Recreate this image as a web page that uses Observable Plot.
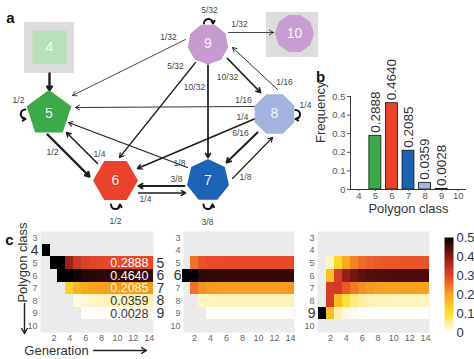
<!DOCTYPE html>
<html><head><meta charset="utf-8">
<script src="https://cdn.jsdelivr.net/npm/d3@7"></script>
<script src="https://cdn.jsdelivr.net/npm/@observablehq/plot@0.6"></script>
<style>
body{margin:0;background:#fff;}
#fig{position:relative;width:474px;height:359px;overflow:hidden;}
</style></head><body><div id="fig"></div>
<script>
// ================= DATA =================
// polygon classes (number of sides) and their colours
const nodeClasses = [4, 5, 6, 7, 8, 9, 10];
const nodeColors = ["#b9e1b9", "#3caa4a", "#e9432b", "#1d63b5", "#a3b3de", "#c69bd0", "#c89dd2"];
// transitions (panel a)
const edgeFrom = [4, 9, 9, 9, 9, 9, 8, 8, 8, 8, 7, 7, 5, 6, 7, 6];
const edgeTo   = [5, 5, 10, 6, 7, 8, 9, 5, 6, 7, 8, 5, 6, 5, 6, 7];
const edgeProb = ["", "1/32", "1/32", "5/32", "10/32", "10/32", "1/16", "1/16", "1/4", "6/16", "1/8", "1/8", "1/2", "1/4", "3/8", "1/4"];
const loopClass = [5, 6, 7, 8, 9];
const loopProb = ["1/2", "1/2", "3/8", "1/4", "5/32"];
// panel b
const freqClasses = [4, 5, 6, 7, 8, 9, 10];
const freqValues = [0, 0.2888, 0.4640, 0.2085, 0.0359, 0.0028, 0];
// panel c
const generations = [1, 2, 3, 4, 5, 6, 7, 8, 9, 10, 11, 12, 13, 14];
const genTicks = [2, 4, 6, 8, 10, 12, 14];
const rowClasses = [3, 4, 5, 6, 7, 8, 9, 10];
const _ = null;
const from4 = {
  4: [1.0, _, _, _, _, _, _, _, _, _, _, _, _, _],
  5: [_, 1.0, 0.5, 0.375, 0.328, 0.308, 0.298, 0.293, 0.291, 0.290, 0.2893, 0.2890, 0.2889, 0.2888],
  6: [_, _, 0.5, 0.5, 0.484, 0.475, 0.469, 0.467, 0.465, 0.4647, 0.4643, 0.4641, 0.4640, 0.4640],
  7: [_, _, _, 0.125, 0.172, 0.191, 0.200, 0.204, 0.206, 0.2073, 0.2079, 0.2082, 0.2084, 0.2085],
  8: [_, _, _, _, 0.016, 0.025, 0.031, 0.033, 0.0345, 0.0352, 0.0355, 0.0357, 0.0358, 0.0359],
  9: [_, _, _, _, _, 0.001, 0.0017, 0.0022, 0.0024, 0.0026, 0.0027, 0.0027, 0.0028, 0.0028]
};
const from6 = {
  5: [_, 0.25, 0.281, 0.287, 0.2884, 0.2887, 0.2888, 0.2888, 0.2888, 0.2888, 0.2888, 0.2888, 0.2888, 0.2888],
  6: [1.0, 0.5, 0.469, 0.465, 0.4642, 0.4640, 0.4640, 0.4640, 0.4640, 0.4640, 0.4640, 0.4640, 0.4640, 0.4640],
  7: [_, 0.25, 0.219, 0.211, 0.209, 0.2087, 0.2086, 0.2085, 0.2085, 0.2085, 0.2085, 0.2085, 0.2085, 0.2085],
  8: [_, _, 0.031, 0.035, 0.0358, 0.0359, 0.0359, 0.0359, 0.0359, 0.0359, 0.0359, 0.0359, 0.0359, 0.0359],
  9: [_, _, _, 0.002, 0.0025, 0.0027, 0.0028, 0.0028, 0.0028, 0.0028, 0.0028, 0.0028, 0.0028, 0.0028]
};
const from9 = {
  5: [_, 0.031, 0.118, 0.189, 0.232, 0.255, 0.266, 0.272, 0.275, 0.276, 0.277, 0.277, 0.278, 0.278],
  6: [_, 0.156, 0.313, 0.385, 0.417, 0.432, 0.439, 0.443, 0.444, 0.445, 0.445, 0.446, 0.446, 0.446],
  7: [_, 0.313, 0.322, 0.275, 0.241, 0.221, 0.211, 0.206, 0.203, 0.202, 0.201, 0.201, 0.201, 0.200],
  8: [_, 0.313, 0.166, 0.096, 0.064, 0.049, 0.041, 0.038, 0.036, 0.035, 0.035, 0.035, 0.035, 0.035],
  9: [1.0, 0.156, 0.044, 0.017, 0.009, 0.005, 0.004, 0.003, 0.003, 0.003, 0.003, 0.003, 0.003, 0.003]
};
const colorbarTicks = [0, 0.1, 0.2, 0.3, 0.4, 0.5];
const panelLetters = ["a", "b", "c"];

// ================= LAYOUT (pixels) =================
const nodeXY = [[49, 47], [48.5, 113], [115, 180], [207.5, 180], [274, 113.5], [207.5, 43.5], [294, 33]];
const nodeR = [24, 23.5, 22.5, 21.5, 21.5, 20.5, 19.5];
const nodeStart = [Math.PI / 4, -Math.PI / 2, 0, -Math.PI / 2, -Math.PI / 2 + Math.PI / 8, Math.PI / 2, -Math.PI / 2 + Math.PI / 10];
const boxLayout = [[24, 22, 74, 73], [266, 12, 318, 57]];
const edgeLayout = [
  [49, 73, 49, 90, 0, 0],
  [185, 39, 72, 95, 168, 37],
  [228, 32, 273, 32, 239, 24],
  [195, 62, 119, 157, 175, 66],
  [207.5, 65, 207.5, 157, 194, 87],
  [227, 58, 260, 92, 227, 77],
  [277, 89, 232, 47, 284, 82],
  [254, 106, 75, 107, 243, 100],
  [255, 118, 137, 168, 242, 117],
  [257, 132, 226, 162, 240, 133],
  [232, 178, 272, 137, 245, 177],
  [187, 167, 68, 122, 179, 163],
  [47, 134, 89, 176, 52, 152],
  [97, 163, 66, 132, 99, 154],
  [184, 185.5, 138, 185.5, 176, 179],
  [138, 192.5, 185, 192.5, 145, 199]
];
// loops: x1,y1,x2,y2,bend sign,labelX,labelY
const loopLayout = [
  [25, 109, 25, 118.5, -1, 18, 100],
  [110.5, 204, 119.5, 204, -1, 115, 221],
  [203, 204, 212, 204, -1, 207, 222],
  [295, 109.5, 295, 118.5, 1, 305, 105],
  [203.5, 23, 212.5, 23, 1, 209, 10]
];
const letterXY = [[10, 18], [320, 77], [9, 240]];

// ================= HELPERS =================
const FONT = '"Liberation Sans", Arial, Helvetica, sans-serif';
const fig = document.getElementById("fig");
function place(svg, left, top) {
  svg.style.position = "absolute";
  svg.style.left = left + "px";
  svg.style.top = top + "px";
  svg.style.maxWidth = "none";
  fig.appendChild(svg);
}
const baseStyle = {background: "transparent", fontFamily: FONT, overflow: "visible", color: "#333"};
function polygonSymbol(n, start) {
  return {
    draw(context, size) {
      const r = Math.sqrt(size / Math.PI);
      for (let i = 0; i < n; ++i) {
        const a = start + 2 * Math.PI * i / n;
        const x = r * Math.cos(a), y = r * Math.sin(a);
        if (i) context.lineTo(x, y); else context.moveTo(x, y);
      }
      context.closePath();
    }
  };
}
const frac = s => { if (!s) return 1; const [a, b] = s.split("/"); return +a / +b; };
const heatColor = {
  type: "linear",
  domain: [0, 0.03, 0.1, 0.2, 0.29, 0.4, 0.5],
  range: ["#ffffff", "#fff5c8", "#ffe030", "#f7a51f", "#e8482a", "#8a1a12", "#000000"],
  clamp: true
};

// ================= PANEL a =================
const nodes = nodeClasses.map((c, i) => ({c, x: nodeXY[i][0], y: nodeXY[i][1], r: nodeR[i], color: nodeColors[i], start: nodeStart[i]}));
const edges = edgeFrom.map((f, i) => ({
  from: f, to: edgeTo[i], label: edgeProb[i], p: frac(edgeProb[i]),
  x1: edgeLayout[i][0], y1: edgeLayout[i][1], x2: edgeLayout[i][2], y2: edgeLayout[i][3],
  lx: edgeLayout[i][4], ly: edgeLayout[i][5]
}));
const loops = loopClass.map((c, i) => ({
  c, label: loopProb[i], x1: loopLayout[i][0], y1: loopLayout[i][1], x2: loopLayout[i][2], y2: loopLayout[i][3],
  sign: loopLayout[i][4], lx: loopLayout[i][5], ly: loopLayout[i][6]
}));
const boxes = boxLayout.map(b => ({x1: b[0], y1: b[1], x2: b[2], y2: b[3]}));
const widthOf = p => Math.min(2.4, 0.7 + 3.4 * p);
const loopOpts = {x1: "x1", y1: "y1", x2: "x2", y2: "y2", stroke: "#111", strokeWidth: 2, headLength: 5};

const plotA = Plot.plot({
  width: 320, height: 232, margin: 0,
  x: {domain: [0, 320], range: [0, 320], axis: null},
  y: {domain: [0, 232], range: [0, 232], axis: null},
  style: baseStyle,
  marks: [
    Plot.rect(boxes, {x1: "x1", y1: "y1", x2: "x2", y2: "y2", fill: "#dcdcdc"}),
    Plot.arrow(edges, {x1: "x1", y1: "y1", x2: "x2", y2: "y2", stroke: "#1e1e1e", strokeWidth: d => widthOf(d.p), headLength: 7}),
    ...nodes.map(n => Plot.dot([n], {x: "x", y: "y", r: n.r, symbol: polygonSymbol(n.c, n.start), fill: n.color, stroke: "none"})),
    Plot.text(nodes, {x: "x", y: "y", text: d => String(d.c), fill: "#ffffff", fillOpacity: 0.92, fontSize: 14}),
    Plot.text(edges.filter(d => d.label), {x: "lx", y: "ly", text: "label", fontSize: 8.5, fill: "#444"}),
    Plot.arrow(loops.filter(d => d.sign < 0), {...loopOpts, bend: -90}),
    Plot.arrow(loops.filter(d => d.sign > 0), {...loopOpts, bend: 90}),
    Plot.text(loops, {x: "lx", y: "ly", text: "label", fontSize: 8.5, fill: "#444"})
  ]
});
place(plotA, 0, 0);

// ================= PANEL b =================
const bars = freqClasses.map((c, i) => ({cls: c, f: freqValues[i], color: nodeColors[nodeClasses.indexOf(c)]})).filter(d => d.f > 0);
const plotB = Plot.plot({
  width: 174, height: 170, marginLeft: 50, marginRight: 8, marginTop: 46, marginBottom: 31,
  x: {domain: [3.5, 10.5]},
  y: {domain: [0, 0.5]},
  style: baseStyle,
  marks: [
    Plot.rect(bars, {x1: d => d.cls - 0.36, x2: d => d.cls + 0.36, y1: 0, y2: "f", fill: d => d.color, stroke: "#111", strokeWidth: 0.8}),
    Plot.ruleY([0], {stroke: "#333"}),
    Plot.ruleX([3.5], {stroke: "#333"}),
    Plot.axisY({ticks: [0, 0.1, 0.2, 0.3, 0.4, 0.5], tickFormat: d => String(d), tickSize: 3, tickPadding: 2, fontSize: 9.5, color: "#555", label: null}),
    Plot.axisX({ticks: freqClasses, tickFormat: d => String(d), tickSize: 2, tickPadding: 1, fontSize: 9.5, color: "#555", label: null}),
    Plot.text(["Frequency"], {text: d => d, frameAnchor: "left", dx: -30, rotate: -90, fontSize: 13, fill: "#333"}),
    Plot.text(["Polygon class"], {text: d => d, frameAnchor: "bottom", dy: 23, fontSize: 13, fill: "#333"}),
    Plot.text(bars, {x: "cls", y: "f", text: d => d.f.toFixed(4), rotate: -90, textAnchor: "start", dy: -3, fontSize: 13.5, fill: "#333"})
  ]
});
place(plotB, 300, 50);

// ================= PANEL c =================
function heat(runs, start, lay, extra = []) {
  const cells = [];
  for (const cls of rowClasses) {
    const vals = runs[cls];
    if (!vals) continue;
    vals.forEach((v, i) => { if (v != null) cells.push({gen: generations[i], cls, v}); });
  }
  return Plot.plot({
    width: lay.w, height: 139, marginLeft: lay.ml, marginRight: lay.mr, marginTop: 11, marginBottom: 27,
    x: {domain: lay.xd},
    y: {domain: [2.5, 10.5], reverse: true, axis: null},
    color: heatColor,
    style: baseStyle,
    marks: [
      Plot.frame({fill: "#ebebeb", stroke: "none"}),
      Plot.rect(cells, {x1: d => d.gen - 0.5, x2: d => d.gen + 0.5, y1: d => d.cls - 0.5, y2: d => d.cls + 0.5, fill: "v", shapeRendering: "crispEdges"}),
      Plot.axisX({ticks: genTicks, tickSize: 0, tickPadding: 2, fontSize: 9, color: "#666", label: null}),
      Plot.text(rowClasses.filter(c => c !== start), {y: d => d, text: d => String(d), frameAnchor: "left", dx: -3, textAnchor: "end", fontSize: 9, fill: "#666"}),
      Plot.text([start], {y: d => d, text: d => String(d), frameAnchor: "left", dx: -2, textAnchor: "end", fontSize: 14, fill: "#333"}),
      ...extra
    ]
  });
}
const valueRows = freqClasses.map((c, i) => ({cls: c, f: freqValues[i]})).filter(d => d.f > 0);
const p1 = heat(from4, 4, {w: 175, ml: 40, mr: 22, xd: [0.3, 14.55]}, [
  Plot.text(valueRows.filter(d => d.cls <= 6), {y: "cls", text: d => d.f.toFixed(4), frameAnchor: "right", dx: -5, textAnchor: "end", fontSize: 12.5, fill: "#ffffff"}),
  Plot.text(valueRows.filter(d => d.cls === 7), {y: "cls", text: d => d.f.toFixed(4), frameAnchor: "right", dx: -5, textAnchor: "end", fontSize: 12.5, fill: "#fff6dc"}),
  Plot.text(valueRows.filter(d => d.cls >= 8), {y: "cls", text: d => d.f.toFixed(4), frameAnchor: "right", dx: -5, textAnchor: "end", fontSize: 12.5, fill: "#333"}),
  Plot.text(valueRows, {y: "cls", text: d => String(d.cls), frameAnchor: "right", dx: 3, textAnchor: "start", fontSize: 14, fill: "#333"})
]);
place(p1, 0, 220);
const p2 = heat(from6, 6, {w: 150, ml: 23, mr: 16, xd: [0.62, 14.5]});
place(p2, 160, 220);
const p3 = heat(from9, 9, {w: 140, ml: 17, mr: 11, xd: [0.37, 14.5]});
place(p3, 300, 220);

// colour bar
const cbar = Plot.plot({
  width: 44, height: 139, marginLeft: 14, marginRight: 21, marginTop: 17, marginBottom: 27,
  x: {domain: [0, 1], axis: null},
  y: {domain: [0, 0.5], axis: null},
  color: heatColor,
  style: baseStyle,
  marks: [
    Plot.raster({x1: 0, x2: 1, y1: 0, y2: 0.5, width: 1, height: 200, fill: (x, y) => y}),
    Plot.axisY({anchor: "right", ticks: colorbarTicks, tickFormat: d => String(d), tickSize: 0, tickPadding: 3, fontSize: 13, color: "#333", label: null})
  ]
});
place(cbar, 430, 220);

// ================= overlay: panel letters, panel-c titles =================
const letters = panelLetters.map((t, i) => ({t, x: letterXY[i][0], y: letterXY[i][1]}));
const cTitles = [
  {t: "Polygon class", x: 22, y: 262, rot: -90},
  {t: "Generation", x: 56, y: 350, rot: 0}
];
const cArrows = [
  {x1: 24, y1: 303, x2: 24, y2: 333},
  {x1: 93, y1: 350, x2: 146, y2: 350}
];
const overlay = Plot.plot({
  width: 474, height: 359, margin: 0,
  x: {domain: [0, 474], range: [0, 474], axis: null},
  y: {domain: [0, 359], range: [0, 359], axis: null},
  style: baseStyle,
  marks: [
    Plot.text(letters, {x: "x", y: "y", text: "t", fontWeight: "bold", fontSize: 15, fill: "#111"}),
    Plot.text(cTitles.filter(d => d.rot), {x: "x", y: "y", text: "t", rotate: -90, fontSize: 13, fill: "#333"}),
    Plot.text(cTitles.filter(d => !d.rot), {x: "x", y: "y", text: "t", fontSize: 13, fill: "#333"}),
    Plot.arrow(cArrows, {x1: "x1", y1: "y1", x2: "x2", y2: "y2", stroke: "#222", strokeWidth: 1.4, headLength: 6})
  ]
});
overlay.style.pointerEvents = "none";
place(overlay, 0, 0);
</script>
</body></html>
